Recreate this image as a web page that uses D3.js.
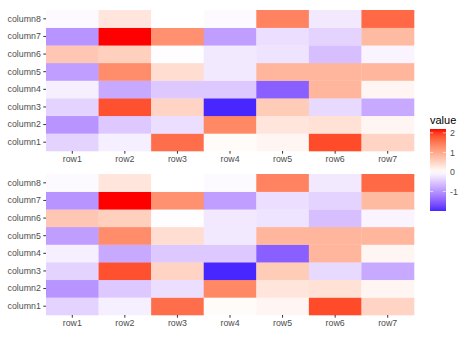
<!DOCTYPE html>
<html><head><meta charset="utf-8">
<script src="https://cdn.jsdelivr.net/npm/d3@7"></script>
<style>body{margin:0;background:#fff}text{font-family:"Liberation Sans",Arial,sans-serif}</style>
</head><body><svg id="c" width="474" height="338"></svg>
<script>
const rows = ["row1","row2","row3","row4","row5","row6","row7"];
const columns = ["column1","column2","column3","column4","column5","column6","column7","column8"];
// values[column][row]
const column1 = [-0.4, -0.15, 1.6, 0.05, 0.1, 1.9, 0.5];
const column2 = [-1.0, -0.5, -0.3, 1.35, 0.3, 0.35, 0.1];
const column3 = [-0.4, 1.85, 0.5, -2.0, 0.6, -0.35, -0.8];
const column4 = [-0.15, -0.8, -0.5, -0.5, -1.5, 0.85, 0.1];
const column5 = [-0.9, 1.3, 0.4, -0.2, 0.85, 0.85, 0.85];
const column6 = [0.65, 0.55, -0.02, -0.2, -0.25, -0.6, -0.1];
const column7 = [-1.0, 2.2, 1.25, -0.9, -0.3, -0.4, 0.8];
const column8 = [-0.05, 0.3, 0.0, -0.05, 1.4, -0.2, 1.65];
const valueRows = [column1,column2,column3,column4,column5,column6,column7,column8];
const legendTicks = [2,1,0,-1];

const cells = [];
columns.forEach((c,i)=>rows.forEach((r,j)=>cells.push({row:r,col:c,v:valueRows[i][j]})));
const vmax = d3.max(cells,d=>d.v), vmin = d3.min(cells,d=>d.v);
const M = Math.max(Math.abs(vmax),Math.abs(vmin));
const color = d3.scaleLinear().domain([-M,0,M]).range(["blue","white","red"]).interpolate(d3.interpolateLab);

const svg = d3.select("#c");
const x = d3.scaleBand().domain(rows).range([46,414]);
const panels = [[10,151],[174,315]];
panels.forEach(([t,b])=>{
  const y = d3.scaleBand().domain(columns).range([b,t]);
  const g = svg.append("g");
  g.selectAll("rect").data(cells).join("rect")
    .attr("x",d=>x(d.row)).attr("y",d=>y(d.col))
    .attr("width",x.bandwidth()+0.3).attr("height",y.bandwidth()+0.3)
    .attr("fill",d=>color(d.v));
  const xa = svg.append("g").attr("transform",`translate(0,${b})`)
    .call(d3.axisBottom(x).tickSize(2.7).tickPadding(2.5));
  const ya = svg.append("g").attr("transform",`translate(46,0)`)
    .call(d3.axisLeft(y).tickSize(2.7).tickPadding(2.5));
  [xa,ya].forEach(a=>{
    a.select(".domain").remove();
    a.selectAll("line").attr("stroke","#333");
    a.selectAll("text").attr("fill","#4d4d4d").style("font-size","8.8px");
  });
});

// legend
const lg = svg.append("g");
lg.append("text").attr("x",430).attr("y",124).text("value").style("font-size","11px").attr("fill","#000");
const ly = d3.scaleLinear().domain([vmin,vmax]).range([211,129]);
const defs = svg.append("defs");
const grad = defs.append("linearGradient").attr("id","lgd").attr("x1",0).attr("y1",1).attr("x2",0).attr("y2",0);
d3.range(0,21).forEach(i=>{
  const v = vmin + (vmax-vmin)*i/20;
  grad.append("stop").attr("offset",i/20).attr("stop-color",color(v));
});
lg.append("rect").attr("x",430).attr("y",129).attr("width",16).attr("height",82).attr("fill","url(#lgd)");
legendTicks.forEach(t=>{
  const yy = ly(t);
  lg.append("line").attr("x1",430).attr("x2",433.2).attr("y1",yy).attr("y2",yy).attr("stroke","white").attr("stroke-width",0.6);
  lg.append("line").attr("x1",442.8).attr("x2",446).attr("y1",yy).attr("y2",yy).attr("stroke","white").attr("stroke-width",0.6);
  lg.append("text").attr("x",450).attr("y",yy).attr("dy","0.35em").text(t).style("font-size","8.8px").attr("fill","#4d4d4d");
});
</script></body></html>
